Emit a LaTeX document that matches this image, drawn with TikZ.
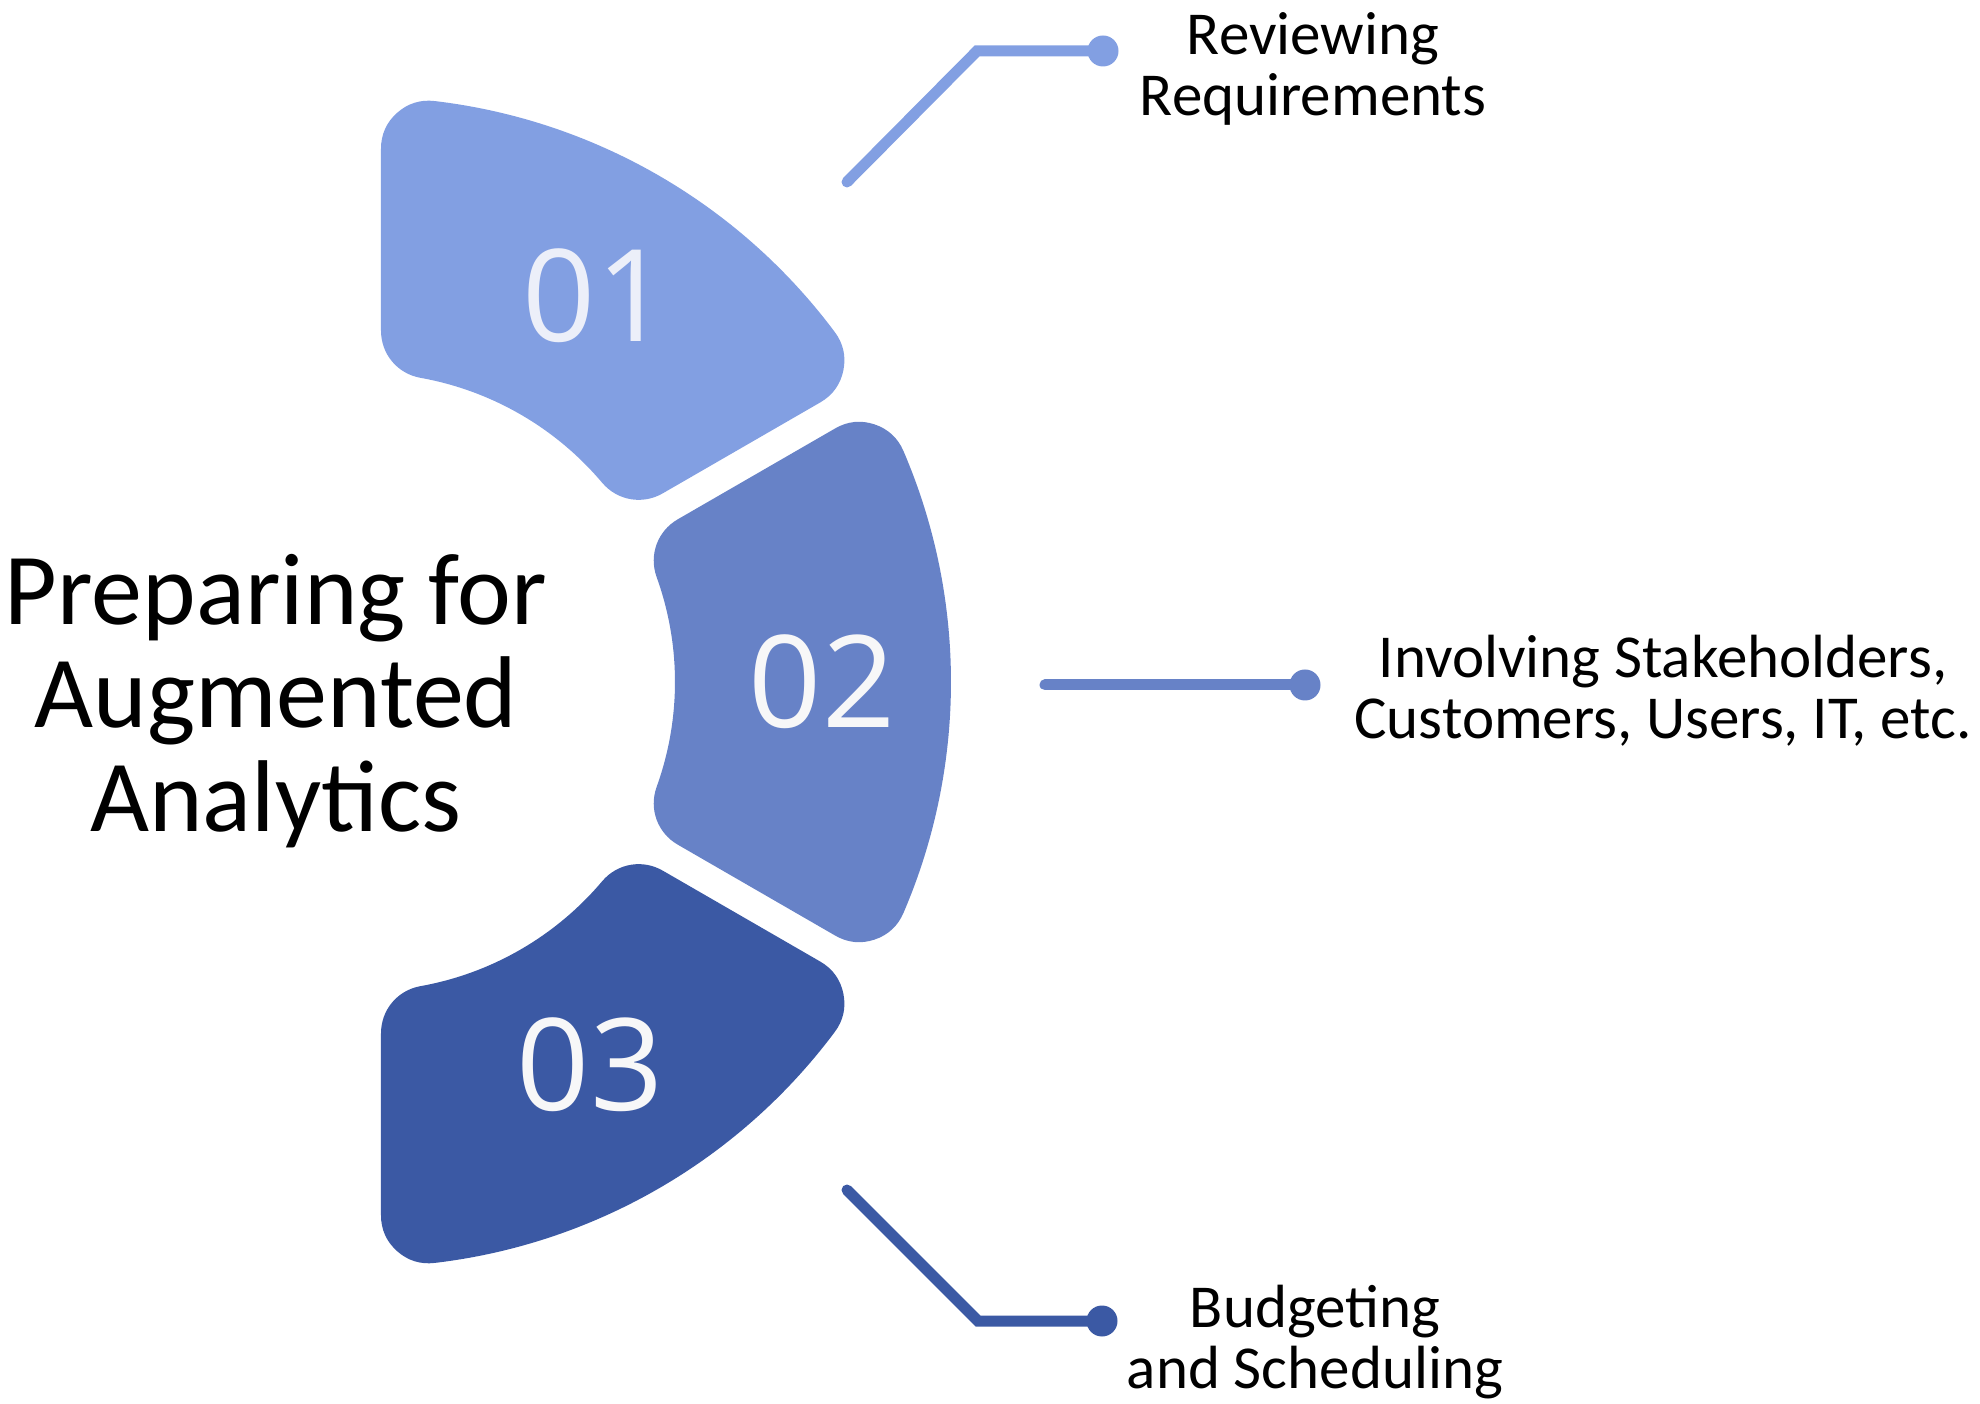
\documentclass[tikz,border=0pt]{standalone}
\usepackage{fontspec}
\setmainfont{Carlito}
\newfontfamily\digitfont{Open Sans}
\definecolor{pieceA}{HTML}{829FE2}
\definecolor{pieceB}{HTML}{6782C7}
\definecolor{pieceC}{HTML}{3B59A4}
\definecolor{numA}{HTML}{ECEFF9}
\definecolor{numB}{HTML}{F7F7F8}
\newcommand\ringpiece[3]{%
  \pgfmathsetmacro\rpOa{#1+asin(63/537)}%
  \pgfmathsetmacro\rpOb{#2-asin(63/537)}%
  \pgfmathsetmacro\rpIa{#1+asin(63/357)}%
  \pgfmathsetmacro\rpIb{#2-asin(63/357)}%
  \path[ringfill=#3] (\rpOa:537) arc[start angle=\rpOa, end angle=\rpOb, radius=537]
     -- (\rpIb:357) arc[start angle=\rpIb, end angle=\rpIa, radius=357] -- cycle;
}
\begin{document}
\begin{tikzpicture}[x=0.5pt,y=0.5pt,
  ringfill/.style={fill=#1,draw=#1,line width=48pt,line join=round},
  digitnum/.style={font=\digitfont\fontsize{64}{64}\selectfont,text=#1,inner sep=0pt},
  connector/.style={draw=#1,line width=5.5pt,line cap=round},
  enddot/.style={circle,fill=#1,minimum size=15.5pt,inner sep=0pt},
  lbl/.style={align=center,inner sep=0pt,font=\fontsize{30.5}{30.5}\selectfont},
  titletext/.style={align=center,inner sep=0pt,font=\fontsize{51}{51.75}\selectfont}]
\useasboundingbox (0,0) rectangle (1980,1403);
\begin{scope}[shift={(366,721)}]
  \ringpiece{30}{90}{pieceA}
  \ringpiece{-30}{30}{pieceB}
  \ringpiece{-90}{-30}{pieceC}
\end{scope}
\node[digitnum=numA] (n1) at (596,1107) {01};
\node[digitnum=numB] (n2) at (822,721) {02};
\node[digitnum=numB] (n3) at (590,338) {03};
% connectors
\coordinate (s1) at (847,1221);
\coordinate (e1) at (977,1352);
\node[enddot=pieceA] (d1) at (1103,1352) {};
\draw[connector=pieceA] (s1) -- (e1) -- (d1.center);
\coordinate (s2) at (1045,718);
\node[enddot=pieceB] (d2) at (1305,718) {};
\draw[connector=pieceB] (s2) -- (d2.center);
\coordinate (s3) at (847,213);
\coordinate (e3) at (978,82);
\node[enddot=pieceC] (d3) at (1102,82) {};
\draw[connector=pieceC] (s3) -- (e3) -- (d3.center);
% labels
\node[lbl] (l1) at (1313,1334) {Reviewing\\Requirements};
\node[lbl] (l2) at (1663,712) {Involving Stakeholders,\\Customers, Users, IT, etc.};
\node[lbl] (l3) at (1315,61) {Budgeting\\and Scheduling};
\node[titletext] (title) at (276,702) {Preparing for\\Augmented\\Analytics};
\end{tikzpicture}
\end{document}
